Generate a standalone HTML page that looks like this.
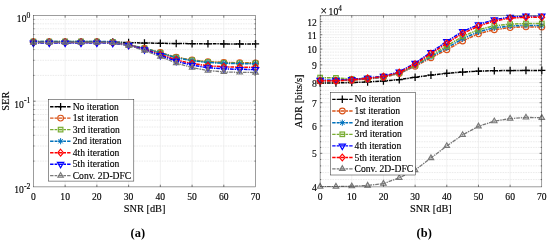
<!DOCTYPE html>
<html><head><meta charset="utf-8"><title>Figure</title>
<style>html,body{margin:0;padding:0;background:#fff}svg{display:block}text{stroke:#000;stroke-width:0.13px}</style></head>
<body>
<svg width="550" height="243" viewBox="0 0 550 243" font-family='"Liberation Serif", serif' fill="#000">
<rect width="550" height="243" fill="#fff"/>
<defs>
<clipPath id="cl"><rect x="33.4" y="15.5" width="222.15" height="171.40"/></clipPath>
<clipPath id="cr"><rect x="320.1" y="15.5" width="221.70" height="171.40"/></clipPath>
</defs>
<line x1="33.4" x2="255.55" y1="161.10" y2="161.10" stroke="#cfcfcf" stroke-width="0.6" stroke-dasharray="0.7 0.95"/>
<line x1="33.4" x2="255.55" y1="146.01" y2="146.01" stroke="#cfcfcf" stroke-width="0.6" stroke-dasharray="0.7 0.95"/>
<line x1="33.4" x2="255.55" y1="135.30" y2="135.30" stroke="#cfcfcf" stroke-width="0.6" stroke-dasharray="0.7 0.95"/>
<line x1="33.4" x2="255.55" y1="127.00" y2="127.00" stroke="#cfcfcf" stroke-width="0.6" stroke-dasharray="0.7 0.95"/>
<line x1="33.4" x2="255.55" y1="120.21" y2="120.21" stroke="#cfcfcf" stroke-width="0.6" stroke-dasharray="0.7 0.95"/>
<line x1="33.4" x2="255.55" y1="114.48" y2="114.48" stroke="#cfcfcf" stroke-width="0.6" stroke-dasharray="0.7 0.95"/>
<line x1="33.4" x2="255.55" y1="109.51" y2="109.51" stroke="#cfcfcf" stroke-width="0.6" stroke-dasharray="0.7 0.95"/>
<line x1="33.4" x2="255.55" y1="105.12" y2="105.12" stroke="#cfcfcf" stroke-width="0.6" stroke-dasharray="0.7 0.95"/>
<line x1="33.4" x2="255.55" y1="75.40" y2="75.40" stroke="#cfcfcf" stroke-width="0.6" stroke-dasharray="0.7 0.95"/>
<line x1="33.4" x2="255.55" y1="60.31" y2="60.31" stroke="#cfcfcf" stroke-width="0.6" stroke-dasharray="0.7 0.95"/>
<line x1="33.4" x2="255.55" y1="49.60" y2="49.60" stroke="#cfcfcf" stroke-width="0.6" stroke-dasharray="0.7 0.95"/>
<line x1="33.4" x2="255.55" y1="41.30" y2="41.30" stroke="#cfcfcf" stroke-width="0.6" stroke-dasharray="0.7 0.95"/>
<line x1="33.4" x2="255.55" y1="34.51" y2="34.51" stroke="#cfcfcf" stroke-width="0.6" stroke-dasharray="0.7 0.95"/>
<line x1="33.4" x2="255.55" y1="28.78" y2="28.78" stroke="#cfcfcf" stroke-width="0.6" stroke-dasharray="0.7 0.95"/>
<line x1="33.4" x2="255.55" y1="23.81" y2="23.81" stroke="#cfcfcf" stroke-width="0.6" stroke-dasharray="0.7 0.95"/>
<line x1="33.4" x2="255.55" y1="19.42" y2="19.42" stroke="#cfcfcf" stroke-width="0.6" stroke-dasharray="0.7 0.95"/>
<line x1="65.14" x2="65.14" y1="15.5" y2="186.9" stroke="#e9e9e9" stroke-width="0.7"/>
<line x1="96.87" x2="96.87" y1="15.5" y2="186.9" stroke="#e9e9e9" stroke-width="0.7"/>
<line x1="128.61" x2="128.61" y1="15.5" y2="186.9" stroke="#e9e9e9" stroke-width="0.7"/>
<line x1="160.34" x2="160.34" y1="15.5" y2="186.9" stroke="#e9e9e9" stroke-width="0.7"/>
<line x1="192.08" x2="192.08" y1="15.5" y2="186.9" stroke="#e9e9e9" stroke-width="0.7"/>
<line x1="223.81" x2="223.81" y1="15.5" y2="186.9" stroke="#e9e9e9" stroke-width="0.7"/>
<line x1="33.4" x2="255.55" y1="101.20" y2="101.20" stroke="#e9e9e9" stroke-width="0.7"/>
<polyline points="33.40,42.00 49.27,42.00 65.14,42.00 81.00,42.00 96.87,42.00 112.74,42.10 128.61,42.60 144.47,43.00 160.34,43.30 176.21,43.50 192.08,43.70 207.95,43.80 223.81,43.90 239.68,43.90 255.55,43.90" fill="none" stroke="#000000" stroke-width="1.5" stroke-dasharray="3.7 0.9 1.4 0.9" clip-path="url(#cl)"/>
<path d="M29.80 42.00H37.00M33.40 38.20V45.80" stroke="#000000" stroke-width="1.25" fill="none"/>
<path d="M45.67 42.00H52.87M49.27 38.20V45.80" stroke="#000000" stroke-width="1.25" fill="none"/>
<path d="M61.54 42.00H68.74M65.14 38.20V45.80" stroke="#000000" stroke-width="1.25" fill="none"/>
<path d="M77.40 42.00H84.60M81.00 38.20V45.80" stroke="#000000" stroke-width="1.25" fill="none"/>
<path d="M93.27 42.00H100.47M96.87 38.20V45.80" stroke="#000000" stroke-width="1.25" fill="none"/>
<path d="M109.14 42.10H116.34M112.74 38.30V45.90" stroke="#000000" stroke-width="1.25" fill="none"/>
<path d="M125.01 42.60H132.21M128.61 38.80V46.40" stroke="#000000" stroke-width="1.25" fill="none"/>
<path d="M140.88 43.00H148.07M144.47 39.20V46.80" stroke="#000000" stroke-width="1.25" fill="none"/>
<path d="M156.74 43.30H163.94M160.34 39.50V47.10" stroke="#000000" stroke-width="1.25" fill="none"/>
<path d="M172.61 43.50H179.81M176.21 39.70V47.30" stroke="#000000" stroke-width="1.25" fill="none"/>
<path d="M188.48 43.70H195.68M192.08 39.90V47.50" stroke="#000000" stroke-width="1.25" fill="none"/>
<path d="M204.35 43.80H211.55M207.95 40.00V47.60" stroke="#000000" stroke-width="1.25" fill="none"/>
<path d="M220.21 43.90H227.41M223.81 40.10V47.70" stroke="#000000" stroke-width="1.25" fill="none"/>
<path d="M236.08 43.90H243.28M239.68 40.10V47.70" stroke="#000000" stroke-width="1.25" fill="none"/>
<path d="M251.95 43.90H259.15M255.55 40.10V47.70" stroke="#000000" stroke-width="1.25" fill="none"/>
<polyline points="33.40,41.80 49.27,41.80 65.14,41.80 81.00,41.80 96.87,41.80 112.74,42.15 128.61,44.70 144.47,48.20 160.34,52.60 176.21,57.30 192.08,60.00 207.95,61.70 223.81,62.40 239.68,62.80 255.55,62.90" fill="none" stroke="#D95319" stroke-width="1.5" stroke-dasharray="3.7 0.9 1.4 0.9" clip-path="url(#cl)"/>
<circle cx="33.40" cy="41.80" r="2.9" stroke="#D95319" stroke-width="1.15" fill="none"/>
<circle cx="49.27" cy="41.80" r="2.9" stroke="#D95319" stroke-width="1.15" fill="none"/>
<circle cx="65.14" cy="41.80" r="2.9" stroke="#D95319" stroke-width="1.15" fill="none"/>
<circle cx="81.00" cy="41.80" r="2.9" stroke="#D95319" stroke-width="1.15" fill="none"/>
<circle cx="96.87" cy="41.80" r="2.9" stroke="#D95319" stroke-width="1.15" fill="none"/>
<circle cx="112.74" cy="42.15" r="2.9" stroke="#D95319" stroke-width="1.15" fill="none"/>
<circle cx="128.61" cy="44.70" r="2.9" stroke="#D95319" stroke-width="1.15" fill="none"/>
<circle cx="144.47" cy="48.20" r="2.9" stroke="#D95319" stroke-width="1.15" fill="none"/>
<circle cx="160.34" cy="52.60" r="2.9" stroke="#D95319" stroke-width="1.15" fill="none"/>
<circle cx="176.21" cy="57.30" r="2.9" stroke="#D95319" stroke-width="1.15" fill="none"/>
<circle cx="192.08" cy="60.00" r="2.9" stroke="#D95319" stroke-width="1.15" fill="none"/>
<circle cx="207.95" cy="61.70" r="2.9" stroke="#D95319" stroke-width="1.15" fill="none"/>
<circle cx="223.81" cy="62.40" r="2.9" stroke="#D95319" stroke-width="1.15" fill="none"/>
<circle cx="239.68" cy="62.80" r="2.9" stroke="#D95319" stroke-width="1.15" fill="none"/>
<circle cx="255.55" cy="62.90" r="2.9" stroke="#D95319" stroke-width="1.15" fill="none"/>
<polyline points="33.40,41.60 49.27,41.60 65.14,41.60 81.00,41.60 96.87,41.60 112.74,41.95 128.61,44.73 144.47,48.29 160.34,52.76 176.21,57.53 192.08,60.30 207.95,62.06 223.81,62.78 239.68,63.18 255.55,63.28" fill="none" stroke="#77AC30" stroke-width="1.5" stroke-dasharray="3.7 0.9 1.4 0.9" clip-path="url(#cl)"/>
<rect x="31.10" y="39.30" width="4.60" height="4.60" stroke="#77AC30" stroke-width="1.15" fill="#77AC30" fill-opacity="0.2"/>
<rect x="46.97" y="39.30" width="4.60" height="4.60" stroke="#77AC30" stroke-width="1.15" fill="#77AC30" fill-opacity="0.2"/>
<rect x="62.84" y="39.30" width="4.60" height="4.60" stroke="#77AC30" stroke-width="1.15" fill="#77AC30" fill-opacity="0.2"/>
<rect x="78.70" y="39.30" width="4.60" height="4.60" stroke="#77AC30" stroke-width="1.15" fill="#77AC30" fill-opacity="0.2"/>
<rect x="94.57" y="39.30" width="4.60" height="4.60" stroke="#77AC30" stroke-width="1.15" fill="#77AC30" fill-opacity="0.2"/>
<rect x="110.44" y="39.65" width="4.60" height="4.60" stroke="#77AC30" stroke-width="1.15" fill="#77AC30" fill-opacity="0.2"/>
<rect x="126.31" y="42.43" width="4.60" height="4.60" stroke="#77AC30" stroke-width="1.15" fill="#77AC30" fill-opacity="0.2"/>
<rect x="142.17" y="45.99" width="4.60" height="4.60" stroke="#77AC30" stroke-width="1.15" fill="#77AC30" fill-opacity="0.2"/>
<rect x="158.04" y="50.46" width="4.60" height="4.60" stroke="#77AC30" stroke-width="1.15" fill="#77AC30" fill-opacity="0.2"/>
<rect x="173.91" y="55.23" width="4.60" height="4.60" stroke="#77AC30" stroke-width="1.15" fill="#77AC30" fill-opacity="0.2"/>
<rect x="189.78" y="58.00" width="4.60" height="4.60" stroke="#77AC30" stroke-width="1.15" fill="#77AC30" fill-opacity="0.2"/>
<rect x="205.65" y="59.76" width="4.60" height="4.60" stroke="#77AC30" stroke-width="1.15" fill="#77AC30" fill-opacity="0.2"/>
<rect x="221.51" y="60.48" width="4.60" height="4.60" stroke="#77AC30" stroke-width="1.15" fill="#77AC30" fill-opacity="0.2"/>
<rect x="237.38" y="60.88" width="4.60" height="4.60" stroke="#77AC30" stroke-width="1.15" fill="#77AC30" fill-opacity="0.2"/>
<rect x="253.25" y="60.98" width="4.60" height="4.60" stroke="#77AC30" stroke-width="1.15" fill="#77AC30" fill-opacity="0.2"/>
<polyline points="33.40,41.40 49.27,41.40 65.14,41.40 81.00,41.40 96.87,41.40 112.74,41.75 128.61,44.77 144.47,48.41 160.34,52.97 176.21,57.81 192.08,60.68 207.95,62.50 223.81,63.26 239.68,63.66 255.55,63.76" fill="none" stroke="#0072BD" stroke-width="1.5" stroke-dasharray="3.7 0.9 1.4 0.9" clip-path="url(#cl)"/>
<path d="M30.30 41.40H36.50M33.40 38.30V44.50M31.21 39.21L35.59 43.59M31.21 43.59L35.59 39.21" stroke="#0072BD" stroke-width="1.0" fill="none"/>
<path d="M46.17 41.40H52.37M49.27 38.30V44.50M47.08 39.21L51.46 43.59M47.08 43.59L51.46 39.21" stroke="#0072BD" stroke-width="1.0" fill="none"/>
<path d="M62.04 41.40H68.24M65.14 38.30V44.50M62.94 39.21L67.33 43.59M62.94 43.59L67.33 39.21" stroke="#0072BD" stroke-width="1.0" fill="none"/>
<path d="M77.90 41.40H84.10M81.00 38.30V44.50M78.81 39.21L83.20 43.59M78.81 43.59L83.20 39.21" stroke="#0072BD" stroke-width="1.0" fill="none"/>
<path d="M93.77 41.40H99.97M96.87 38.30V44.50M94.68 39.21L99.06 43.59M94.68 43.59L99.06 39.21" stroke="#0072BD" stroke-width="1.0" fill="none"/>
<path d="M109.64 41.75H115.84M112.74 38.65V44.85M110.55 39.56L114.93 43.94M110.55 43.94L114.93 39.56" stroke="#0072BD" stroke-width="1.0" fill="none"/>
<path d="M125.51 44.77H131.71M128.61 41.67V47.87M126.42 42.58L130.80 46.96M126.42 46.96L130.80 42.58" stroke="#0072BD" stroke-width="1.0" fill="none"/>
<path d="M141.38 48.41H147.57M144.47 45.31V51.51M142.28 46.21L146.67 50.60M142.28 50.60L146.67 46.21" stroke="#0072BD" stroke-width="1.0" fill="none"/>
<path d="M157.24 52.97H163.44M160.34 49.87V56.07M158.15 50.78L162.53 55.16M158.15 55.16L162.53 50.78" stroke="#0072BD" stroke-width="1.0" fill="none"/>
<path d="M173.11 57.81H179.31M176.21 54.71V60.91M174.02 55.62L178.40 60.01M174.02 60.01L178.40 55.62" stroke="#0072BD" stroke-width="1.0" fill="none"/>
<path d="M188.98 60.68H195.18M192.08 57.58V63.78M189.89 58.49L194.27 62.88M189.89 62.88L194.27 58.49" stroke="#0072BD" stroke-width="1.0" fill="none"/>
<path d="M204.85 62.50H211.05M207.95 59.40V65.60M205.75 60.31L210.14 64.69M205.75 64.69L210.14 60.31" stroke="#0072BD" stroke-width="1.0" fill="none"/>
<path d="M220.71 63.26H226.91M223.81 60.16V66.36M221.62 61.06L226.01 65.45M221.62 65.45L226.01 61.06" stroke="#0072BD" stroke-width="1.0" fill="none"/>
<path d="M236.58 63.66H242.78M239.68 60.56V66.76M237.49 61.47L241.87 65.86M237.49 65.86L241.87 61.47" stroke="#0072BD" stroke-width="1.0" fill="none"/>
<path d="M252.45 63.76H258.65M255.55 60.66V66.86M253.36 61.57L257.74 65.96M253.36 65.96L257.74 61.57" stroke="#0072BD" stroke-width="1.0" fill="none"/>
<polyline points="33.40,42.40 49.27,42.40 65.14,42.40 81.00,42.40 96.87,42.40 112.74,42.75 128.61,45.07 144.47,49.26 160.34,54.49 176.21,59.92 192.08,63.50 207.95,65.79 223.81,66.77 239.68,67.22 255.55,67.32" fill="none" stroke="#FF0000" stroke-width="1.5" stroke-dasharray="3.7 0.9 1.4 0.9" clip-path="url(#cl)"/>
<path d="M33.40 38.95L36.25 42.40L33.40 45.85L30.55 42.40Z" stroke="#FF0000" stroke-width="1.15" fill="none"/>
<path d="M49.27 38.95L52.12 42.40L49.27 45.85L46.42 42.40Z" stroke="#FF0000" stroke-width="1.15" fill="none"/>
<path d="M65.14 38.95L67.99 42.40L65.14 45.85L62.29 42.40Z" stroke="#FF0000" stroke-width="1.15" fill="none"/>
<path d="M81.00 38.95L83.85 42.40L81.00 45.85L78.15 42.40Z" stroke="#FF0000" stroke-width="1.15" fill="none"/>
<path d="M96.87 38.95L99.72 42.40L96.87 45.85L94.02 42.40Z" stroke="#FF0000" stroke-width="1.15" fill="none"/>
<path d="M112.74 39.30L115.59 42.75L112.74 46.20L109.89 42.75Z" stroke="#FF0000" stroke-width="1.15" fill="none"/>
<path d="M128.61 41.62L131.46 45.07L128.61 48.52L125.76 45.07Z" stroke="#FF0000" stroke-width="1.15" fill="none"/>
<path d="M144.47 45.81L147.32 49.26L144.47 52.71L141.62 49.26Z" stroke="#FF0000" stroke-width="1.15" fill="none"/>
<path d="M160.34 51.04L163.19 54.49L160.34 57.94L157.49 54.49Z" stroke="#FF0000" stroke-width="1.15" fill="none"/>
<path d="M176.21 56.47L179.06 59.92L176.21 63.37L173.36 59.92Z" stroke="#FF0000" stroke-width="1.15" fill="none"/>
<path d="M192.08 60.05L194.93 63.50L192.08 66.95L189.23 63.50Z" stroke="#FF0000" stroke-width="1.15" fill="none"/>
<path d="M207.95 62.34L210.80 65.79L207.95 69.24L205.10 65.79Z" stroke="#FF0000" stroke-width="1.15" fill="none"/>
<path d="M223.81 63.32L226.66 66.77L223.81 70.22L220.96 66.77Z" stroke="#FF0000" stroke-width="1.15" fill="none"/>
<path d="M239.68 63.77L242.53 67.22L239.68 70.67L236.83 67.22Z" stroke="#FF0000" stroke-width="1.15" fill="none"/>
<path d="M255.55 63.87L258.40 67.32L255.55 70.77L252.70 67.32Z" stroke="#FF0000" stroke-width="1.15" fill="none"/>
<polyline points="33.40,42.90 49.27,42.90 65.14,42.90 81.00,42.90 96.87,42.90 112.74,43.25 128.61,45.24 144.47,49.76 160.34,55.39 176.21,61.18 192.08,65.17 207.95,67.75 223.81,68.86 239.68,69.33 255.55,69.43" fill="none" stroke="#0000FF" stroke-width="1.5" stroke-dasharray="3.7 0.9 1.4 0.9" clip-path="url(#cl)"/>
<path d="M30.20 41.05L36.60 41.05L33.40 46.60Z" stroke="#0000FF" stroke-width="1.15" fill="none" stroke-linejoin="miter"/>
<path d="M46.07 41.05L52.47 41.05L49.27 46.60Z" stroke="#0000FF" stroke-width="1.15" fill="none" stroke-linejoin="miter"/>
<path d="M61.94 41.05L68.34 41.05L65.14 46.60Z" stroke="#0000FF" stroke-width="1.15" fill="none" stroke-linejoin="miter"/>
<path d="M77.80 41.05L84.20 41.05L81.00 46.60Z" stroke="#0000FF" stroke-width="1.15" fill="none" stroke-linejoin="miter"/>
<path d="M93.67 41.05L100.07 41.05L96.87 46.60Z" stroke="#0000FF" stroke-width="1.15" fill="none" stroke-linejoin="miter"/>
<path d="M109.54 41.40L115.94 41.40L112.74 46.95Z" stroke="#0000FF" stroke-width="1.15" fill="none" stroke-linejoin="miter"/>
<path d="M125.41 43.39L131.81 43.39L128.61 48.94Z" stroke="#0000FF" stroke-width="1.15" fill="none" stroke-linejoin="miter"/>
<path d="M141.28 47.91L147.67 47.91L144.47 53.46Z" stroke="#0000FF" stroke-width="1.15" fill="none" stroke-linejoin="miter"/>
<path d="M157.14 53.54L163.54 53.54L160.34 59.09Z" stroke="#0000FF" stroke-width="1.15" fill="none" stroke-linejoin="miter"/>
<path d="M173.01 59.33L179.41 59.33L176.21 64.88Z" stroke="#0000FF" stroke-width="1.15" fill="none" stroke-linejoin="miter"/>
<path d="M188.88 63.32L195.28 63.32L192.08 68.87Z" stroke="#0000FF" stroke-width="1.15" fill="none" stroke-linejoin="miter"/>
<path d="M204.75 65.90L211.15 65.90L207.95 71.45Z" stroke="#0000FF" stroke-width="1.15" fill="none" stroke-linejoin="miter"/>
<path d="M220.61 67.01L227.01 67.01L223.81 72.56Z" stroke="#0000FF" stroke-width="1.15" fill="none" stroke-linejoin="miter"/>
<path d="M236.48 67.48L242.88 67.48L239.68 73.03Z" stroke="#0000FF" stroke-width="1.15" fill="none" stroke-linejoin="miter"/>
<path d="M252.35 67.58L258.75 67.58L255.55 73.13Z" stroke="#0000FF" stroke-width="1.15" fill="none" stroke-linejoin="miter"/>
<polyline points="33.40,42.60 49.27,42.60 65.14,42.60 81.00,42.60 96.87,42.60 112.74,42.95 128.61,45.50 144.47,50.50 160.34,56.70 176.21,63.00 192.08,67.60 207.95,70.60 223.81,71.90 239.68,72.40 255.55,72.50" fill="none" stroke="#787878" stroke-width="1.3" stroke-dasharray="3.7 0.9 1.4 0.9" clip-path="url(#cl)"/>
<path d="M30.65 44.20L36.15 44.20L33.40 39.45Z" stroke="#787878" stroke-width="1.1" fill="#787878" fill-opacity="0.22"/>
<path d="M46.52 44.20L52.02 44.20L49.27 39.45Z" stroke="#787878" stroke-width="1.1" fill="#787878" fill-opacity="0.22"/>
<path d="M62.39 44.20L67.89 44.20L65.14 39.45Z" stroke="#787878" stroke-width="1.1" fill="#787878" fill-opacity="0.22"/>
<path d="M78.25 44.20L83.75 44.20L81.00 39.45Z" stroke="#787878" stroke-width="1.1" fill="#787878" fill-opacity="0.22"/>
<path d="M94.12 44.20L99.62 44.20L96.87 39.45Z" stroke="#787878" stroke-width="1.1" fill="#787878" fill-opacity="0.22"/>
<path d="M109.99 44.55L115.49 44.55L112.74 39.80Z" stroke="#787878" stroke-width="1.1" fill="#787878" fill-opacity="0.22"/>
<path d="M125.86 47.10L131.36 47.10L128.61 42.35Z" stroke="#787878" stroke-width="1.1" fill="#787878" fill-opacity="0.22"/>
<path d="M141.72 52.10L147.22 52.10L144.47 47.35Z" stroke="#787878" stroke-width="1.1" fill="#787878" fill-opacity="0.22"/>
<path d="M157.59 58.30L163.09 58.30L160.34 53.55Z" stroke="#787878" stroke-width="1.1" fill="#787878" fill-opacity="0.22"/>
<path d="M173.46 64.60L178.96 64.60L176.21 59.85Z" stroke="#787878" stroke-width="1.1" fill="#787878" fill-opacity="0.22"/>
<path d="M189.33 69.20L194.83 69.20L192.08 64.45Z" stroke="#787878" stroke-width="1.1" fill="#787878" fill-opacity="0.22"/>
<path d="M205.20 72.20L210.70 72.20L207.95 67.45Z" stroke="#787878" stroke-width="1.1" fill="#787878" fill-opacity="0.22"/>
<path d="M221.06 73.50L226.56 73.50L223.81 68.75Z" stroke="#787878" stroke-width="1.1" fill="#787878" fill-opacity="0.22"/>
<path d="M236.93 74.00L242.43 74.00L239.68 69.25Z" stroke="#787878" stroke-width="1.1" fill="#787878" fill-opacity="0.22"/>
<path d="M252.80 74.10L258.30 74.10L255.55 69.35Z" stroke="#787878" stroke-width="1.1" fill="#787878" fill-opacity="0.22"/>
<rect x="33.4" y="15.5" width="222.15" height="171.40" fill="none" stroke="#262626" stroke-width="0.45"/>
<path d="M65.14 186.9v-2.2M65.14 15.5v2.2M96.87 186.9v-2.2M96.87 15.5v2.2M128.61 186.9v-2.2M128.61 15.5v2.2M160.34 186.9v-2.2M160.34 15.5v2.2M192.08 186.9v-2.2M192.08 15.5v2.2M223.81 186.9v-2.2M223.81 15.5v2.2M33.4 101.20h2.2M255.55 101.20h-2.2M33.4 161.10h1.1M255.55 161.10h-1.1M33.4 146.01h1.1M255.55 146.01h-1.1M33.4 135.30h1.1M255.55 135.30h-1.1M33.4 127.00h1.1M255.55 127.00h-1.1M33.4 120.21h1.1M255.55 120.21h-1.1M33.4 114.48h1.1M255.55 114.48h-1.1M33.4 109.51h1.1M255.55 109.51h-1.1M33.4 105.12h1.1M255.55 105.12h-1.1M33.4 75.40h1.1M255.55 75.40h-1.1M33.4 60.31h1.1M255.55 60.31h-1.1M33.4 49.60h1.1M255.55 49.60h-1.1M33.4 41.30h1.1M255.55 41.30h-1.1M33.4 34.51h1.1M255.55 34.51h-1.1M33.4 28.78h1.1M255.55 28.78h-1.1M33.4 23.81h1.1M255.55 23.81h-1.1M33.4 19.42h1.1M255.55 19.42h-1.1" stroke="#262626" stroke-width="0.6" fill="none"/>
<text x="33.40" y="200.40" font-size="9.6" text-anchor="middle" >0</text>
<text x="65.14" y="200.40" font-size="9.6" text-anchor="middle" >10</text>
<text x="96.87" y="200.40" font-size="9.6" text-anchor="middle" >20</text>
<text x="128.61" y="200.40" font-size="9.6" text-anchor="middle" >30</text>
<text x="160.34" y="200.40" font-size="9.6" text-anchor="middle" >40</text>
<text x="192.08" y="200.40" font-size="9.6" text-anchor="middle" >50</text>
<text x="223.81" y="200.40" font-size="9.6" text-anchor="middle" >60</text>
<text x="255.55" y="200.40" font-size="9.6" text-anchor="middle" >70</text>
<text x="144.60" y="212.20" font-size="10.4" text-anchor="middle" >SNR [dB]</text>
<text x="30.3" y="22.00" font-size="9.6" text-anchor="end">10<tspan font-size="7.7" dy="-4.4">0</tspan></text>
<text x="30.3" y="107.70" font-size="9.6" text-anchor="end">10<tspan font-size="7.7" dy="-4.4">-1</tspan></text>
<text x="30.3" y="193.40" font-size="9.6" text-anchor="end">10<tspan font-size="7.7" dy="-4.4">-2</tspan></text>
<text transform="translate(9.0,101.2) rotate(-90)" font-size="10.4" text-anchor="middle">SER</text>
<rect x="48.4" y="99.3" width="85.40" height="81.80" fill="#fff" stroke="#262626" stroke-width="0.5"/>
<line x1="50.1" x2="70.9" y1="106.70" y2="106.70" stroke="#000000" stroke-width="1.35" stroke-dasharray="3.4 1.1 2.6 1.1 4.0 1.1 2.6 1.1 3.4"/>
<path d="M57.00 106.70H64.20M60.60 102.90V110.50" stroke="#000000" stroke-width="1.25" fill="none"/>
<text x="72.70" y="109.80" font-size="9.6" text-anchor="start" >No iteration</text>
<line x1="50.1" x2="70.9" y1="118.10" y2="118.10" stroke="#D95319" stroke-width="1.35" stroke-dasharray="3.4 1.1 2.6 1.1 4.0 1.1 2.6 1.1 3.4"/>
<circle cx="60.60" cy="118.10" r="2.9" stroke="#D95319" stroke-width="1.15" fill="none"/>
<text x="72.70" y="121.20" font-size="9.6" text-anchor="start" >1st iteration</text>
<line x1="50.1" x2="70.9" y1="129.60" y2="129.60" stroke="#77AC30" stroke-width="1.35" stroke-dasharray="3.4 1.1 2.6 1.1 4.0 1.1 2.6 1.1 3.4"/>
<rect x="58.30" y="127.30" width="4.60" height="4.60" stroke="#77AC30" stroke-width="1.15" fill="#77AC30" fill-opacity="0.2"/>
<text x="72.70" y="132.70" font-size="9.6" text-anchor="start" >3rd iteration</text>
<line x1="50.1" x2="70.9" y1="141.20" y2="141.20" stroke="#0072BD" stroke-width="1.35" stroke-dasharray="3.4 1.1 2.6 1.1 4.0 1.1 2.6 1.1 3.4"/>
<path d="M57.50 141.20H63.70M60.60 138.10V144.30M58.41 139.01L62.79 143.39M58.41 143.39L62.79 139.01" stroke="#0072BD" stroke-width="1.0" fill="none"/>
<text x="72.70" y="144.30" font-size="9.6" text-anchor="start" >2nd iteration</text>
<line x1="50.1" x2="70.9" y1="152.70" y2="152.70" stroke="#FF0000" stroke-width="1.35" stroke-dasharray="3.4 1.1 2.6 1.1 4.0 1.1 2.6 1.1 3.4"/>
<path d="M60.60 149.25L63.45 152.70L60.60 156.15L57.75 152.70Z" stroke="#FF0000" stroke-width="1.15" fill="none"/>
<text x="72.70" y="155.80" font-size="9.6" text-anchor="start" >4th iteration</text>
<line x1="50.1" x2="70.9" y1="164.20" y2="164.20" stroke="#0000FF" stroke-width="1.35" stroke-dasharray="3.4 1.1 2.6 1.1 4.0 1.1 2.6 1.1 3.4"/>
<path d="M57.40 162.35L63.80 162.35L60.60 167.90Z" stroke="#0000FF" stroke-width="1.15" fill="none" stroke-linejoin="miter"/>
<text x="72.70" y="167.30" font-size="9.6" text-anchor="start" >5th iteration</text>
<line x1="50.1" x2="70.9" y1="175.70" y2="175.70" stroke="#787878" stroke-width="1.3" stroke-dasharray="3.4 1.1 2.6 1.1 4.0 1.1 2.6 1.1 3.4"/>
<path d="M57.85 177.30L63.35 177.30L60.60 172.55Z" stroke="#787878" stroke-width="1.1" fill="#787878" fill-opacity="0.22"/>
<text x="72.70" y="178.80" font-size="9.6" text-anchor="start" >Conv. 2D-DFC</text>
<text x="137.8" y="236.8" font-size="12.4" font-weight="bold" style="stroke-width:0" text-anchor="middle">(a)</text>
<line x1="320.1" x2="541.8" y1="179.56" y2="179.56" stroke="#cfcfcf" stroke-width="0.6" stroke-dasharray="0.7 0.95"/>
<line x1="320.1" x2="541.8" y1="172.56" y2="172.56" stroke="#cfcfcf" stroke-width="0.6" stroke-dasharray="0.7 0.95"/>
<line x1="320.1" x2="541.8" y1="165.88" y2="165.88" stroke="#cfcfcf" stroke-width="0.6" stroke-dasharray="0.7 0.95"/>
<line x1="320.1" x2="541.8" y1="159.47" y2="159.47" stroke="#cfcfcf" stroke-width="0.6" stroke-dasharray="0.7 0.95"/>
<line x1="320.1" x2="541.8" y1="147.43" y2="147.43" stroke="#cfcfcf" stroke-width="0.6" stroke-dasharray="0.7 0.95"/>
<line x1="320.1" x2="541.8" y1="141.76" y2="141.76" stroke="#cfcfcf" stroke-width="0.6" stroke-dasharray="0.7 0.95"/>
<line x1="320.1" x2="541.8" y1="136.29" y2="136.29" stroke="#cfcfcf" stroke-width="0.6" stroke-dasharray="0.7 0.95"/>
<line x1="320.1" x2="541.8" y1="131.01" y2="131.01" stroke="#cfcfcf" stroke-width="0.6" stroke-dasharray="0.7 0.95"/>
<line x1="320.1" x2="541.8" y1="120.98" y2="120.98" stroke="#cfcfcf" stroke-width="0.6" stroke-dasharray="0.7 0.95"/>
<line x1="320.1" x2="541.8" y1="116.20" y2="116.20" stroke="#cfcfcf" stroke-width="0.6" stroke-dasharray="0.7 0.95"/>
<line x1="320.1" x2="541.8" y1="111.57" y2="111.57" stroke="#cfcfcf" stroke-width="0.6" stroke-dasharray="0.7 0.95"/>
<line x1="320.1" x2="541.8" y1="107.08" y2="107.08" stroke="#cfcfcf" stroke-width="0.6" stroke-dasharray="0.7 0.95"/>
<line x1="320.1" x2="541.8" y1="98.48" y2="98.48" stroke="#cfcfcf" stroke-width="0.6" stroke-dasharray="0.7 0.95"/>
<line x1="320.1" x2="541.8" y1="94.36" y2="94.36" stroke="#cfcfcf" stroke-width="0.6" stroke-dasharray="0.7 0.95"/>
<line x1="320.1" x2="541.8" y1="90.35" y2="90.35" stroke="#cfcfcf" stroke-width="0.6" stroke-dasharray="0.7 0.95"/>
<line x1="320.1" x2="541.8" y1="86.44" y2="86.44" stroke="#cfcfcf" stroke-width="0.6" stroke-dasharray="0.7 0.95"/>
<line x1="320.1" x2="541.8" y1="78.92" y2="78.92" stroke="#cfcfcf" stroke-width="0.6" stroke-dasharray="0.7 0.95"/>
<line x1="320.1" x2="541.8" y1="75.29" y2="75.29" stroke="#cfcfcf" stroke-width="0.6" stroke-dasharray="0.7 0.95"/>
<line x1="320.1" x2="541.8" y1="71.75" y2="71.75" stroke="#cfcfcf" stroke-width="0.6" stroke-dasharray="0.7 0.95"/>
<line x1="320.1" x2="541.8" y1="68.30" y2="68.30" stroke="#cfcfcf" stroke-width="0.6" stroke-dasharray="0.7 0.95"/>
<line x1="320.1" x2="541.8" y1="61.61" y2="61.61" stroke="#cfcfcf" stroke-width="0.6" stroke-dasharray="0.7 0.95"/>
<line x1="320.1" x2="541.8" y1="58.37" y2="58.37" stroke="#cfcfcf" stroke-width="0.6" stroke-dasharray="0.7 0.95"/>
<line x1="320.1" x2="541.8" y1="55.21" y2="55.21" stroke="#cfcfcf" stroke-width="0.6" stroke-dasharray="0.7 0.95"/>
<line x1="320.1" x2="541.8" y1="52.11" y2="52.11" stroke="#cfcfcf" stroke-width="0.6" stroke-dasharray="0.7 0.95"/>
<line x1="320.1" x2="541.8" y1="46.09" y2="46.09" stroke="#cfcfcf" stroke-width="0.6" stroke-dasharray="0.7 0.95"/>
<line x1="320.1" x2="541.8" y1="43.17" y2="43.17" stroke="#cfcfcf" stroke-width="0.6" stroke-dasharray="0.7 0.95"/>
<line x1="320.1" x2="541.8" y1="40.30" y2="40.30" stroke="#cfcfcf" stroke-width="0.6" stroke-dasharray="0.7 0.95"/>
<line x1="320.1" x2="541.8" y1="37.49" y2="37.49" stroke="#cfcfcf" stroke-width="0.6" stroke-dasharray="0.7 0.95"/>
<line x1="320.1" x2="541.8" y1="32.02" y2="32.02" stroke="#cfcfcf" stroke-width="0.6" stroke-dasharray="0.7 0.95"/>
<line x1="320.1" x2="541.8" y1="29.36" y2="29.36" stroke="#cfcfcf" stroke-width="0.6" stroke-dasharray="0.7 0.95"/>
<line x1="320.1" x2="541.8" y1="26.74" y2="26.74" stroke="#cfcfcf" stroke-width="0.6" stroke-dasharray="0.7 0.95"/>
<line x1="320.1" x2="541.8" y1="24.17" y2="24.17" stroke="#cfcfcf" stroke-width="0.6" stroke-dasharray="0.7 0.95"/>
<line x1="320.1" x2="541.8" y1="19.15" y2="19.15" stroke="#cfcfcf" stroke-width="0.6" stroke-dasharray="0.7 0.95"/>
<line x1="320.1" x2="541.8" y1="16.71" y2="16.71" stroke="#cfcfcf" stroke-width="0.6" stroke-dasharray="0.7 0.95"/>
<line x1="351.77" x2="351.77" y1="15.5" y2="186.9" stroke="#e9e9e9" stroke-width="0.7"/>
<line x1="383.44" x2="383.44" y1="15.5" y2="186.9" stroke="#e9e9e9" stroke-width="0.7"/>
<line x1="415.11" x2="415.11" y1="15.5" y2="186.9" stroke="#e9e9e9" stroke-width="0.7"/>
<line x1="446.79" x2="446.79" y1="15.5" y2="186.9" stroke="#e9e9e9" stroke-width="0.7"/>
<line x1="478.46" x2="478.46" y1="15.5" y2="186.9" stroke="#e9e9e9" stroke-width="0.7"/>
<line x1="510.13" x2="510.13" y1="15.5" y2="186.9" stroke="#e9e9e9" stroke-width="0.7"/>
<line x1="320.1" x2="541.8" y1="153.33" y2="153.33" stroke="#e9e9e9" stroke-width="0.7"/>
<line x1="320.1" x2="541.8" y1="125.91" y2="125.91" stroke="#e9e9e9" stroke-width="0.7"/>
<line x1="320.1" x2="541.8" y1="102.72" y2="102.72" stroke="#e9e9e9" stroke-width="0.7"/>
<line x1="320.1" x2="541.8" y1="82.63" y2="82.63" stroke="#e9e9e9" stroke-width="0.7"/>
<line x1="320.1" x2="541.8" y1="64.92" y2="64.92" stroke="#e9e9e9" stroke-width="0.7"/>
<line x1="320.1" x2="541.8" y1="49.07" y2="49.07" stroke="#e9e9e9" stroke-width="0.7"/>
<line x1="320.1" x2="541.8" y1="34.73" y2="34.73" stroke="#e9e9e9" stroke-width="0.7"/>
<line x1="320.1" x2="541.8" y1="21.64" y2="21.64" stroke="#e9e9e9" stroke-width="0.7"/>
<polyline points="320.10,83.00 335.94,82.90 351.77,82.50 367.61,81.90 383.44,81.00 399.28,79.60 415.11,77.30 430.95,75.10 446.79,73.30 462.62,72.00 478.46,71.20 494.29,70.70 510.13,70.50 525.96,70.40 541.80,70.40" fill="none" stroke="#000000" stroke-width="1.5" stroke-dasharray="3.7 0.9 1.4 0.9" clip-path="url(#cr)"/>
<path d="M316.50 83.00H323.70M320.10 79.20V86.80" stroke="#000000" stroke-width="1.25" fill="none"/>
<path d="M332.34 82.90H339.54M335.94 79.10V86.70" stroke="#000000" stroke-width="1.25" fill="none"/>
<path d="M348.17 82.50H355.37M351.77 78.70V86.30" stroke="#000000" stroke-width="1.25" fill="none"/>
<path d="M364.01 81.90H371.21M367.61 78.10V85.70" stroke="#000000" stroke-width="1.25" fill="none"/>
<path d="M379.84 81.00H387.04M383.44 77.20V84.80" stroke="#000000" stroke-width="1.25" fill="none"/>
<path d="M395.68 79.60H402.88M399.28 75.80V83.40" stroke="#000000" stroke-width="1.25" fill="none"/>
<path d="M411.51 77.30H418.71M415.11 73.50V81.10" stroke="#000000" stroke-width="1.25" fill="none"/>
<path d="M427.35 75.10H434.55M430.95 71.30V78.90" stroke="#000000" stroke-width="1.25" fill="none"/>
<path d="M443.19 73.30H450.39M446.79 69.50V77.10" stroke="#000000" stroke-width="1.25" fill="none"/>
<path d="M459.02 72.00H466.22M462.62 68.20V75.80" stroke="#000000" stroke-width="1.25" fill="none"/>
<path d="M474.86 71.20H482.06M478.46 67.40V75.00" stroke="#000000" stroke-width="1.25" fill="none"/>
<path d="M490.69 70.70H497.89M494.29 66.90V74.50" stroke="#000000" stroke-width="1.25" fill="none"/>
<path d="M506.53 70.50H513.73M510.13 66.70V74.30" stroke="#000000" stroke-width="1.25" fill="none"/>
<path d="M522.36 70.40H529.56M525.96 66.60V74.20" stroke="#000000" stroke-width="1.25" fill="none"/>
<path d="M538.20 70.40H545.40M541.80 66.60V74.20" stroke="#000000" stroke-width="1.25" fill="none"/>
<polyline points="320.10,80.90 335.94,80.90 351.77,80.20 367.61,79.00 383.44,77.30 399.28,73.50 415.11,66.30 430.95,57.80 446.79,49.70 462.62,41.00 478.46,33.80 494.29,29.70 510.13,27.60 525.96,26.80 541.80,27.10" fill="none" stroke="#D95319" stroke-width="1.5" stroke-dasharray="3.7 0.9 1.4 0.9" clip-path="url(#cr)"/>
<circle cx="320.10" cy="80.90" r="2.9" stroke="#D95319" stroke-width="1.15" fill="none"/>
<circle cx="335.94" cy="80.90" r="2.9" stroke="#D95319" stroke-width="1.15" fill="none"/>
<circle cx="351.77" cy="80.20" r="2.9" stroke="#D95319" stroke-width="1.15" fill="none"/>
<circle cx="367.61" cy="79.00" r="2.9" stroke="#D95319" stroke-width="1.15" fill="none"/>
<circle cx="383.44" cy="77.30" r="2.9" stroke="#D95319" stroke-width="1.15" fill="none"/>
<circle cx="399.28" cy="73.50" r="2.9" stroke="#D95319" stroke-width="1.15" fill="none"/>
<circle cx="415.11" cy="66.30" r="2.9" stroke="#D95319" stroke-width="1.15" fill="none"/>
<circle cx="430.95" cy="57.80" r="2.9" stroke="#D95319" stroke-width="1.15" fill="none"/>
<circle cx="446.79" cy="49.70" r="2.9" stroke="#D95319" stroke-width="1.15" fill="none"/>
<circle cx="462.62" cy="41.00" r="2.9" stroke="#D95319" stroke-width="1.15" fill="none"/>
<circle cx="478.46" cy="33.80" r="2.9" stroke="#D95319" stroke-width="1.15" fill="none"/>
<circle cx="494.29" cy="29.70" r="2.9" stroke="#D95319" stroke-width="1.15" fill="none"/>
<circle cx="510.13" cy="27.60" r="2.9" stroke="#D95319" stroke-width="1.15" fill="none"/>
<circle cx="525.96" cy="26.80" r="2.9" stroke="#D95319" stroke-width="1.15" fill="none"/>
<circle cx="541.80" cy="27.10" r="2.9" stroke="#D95319" stroke-width="1.15" fill="none"/>
<polyline points="320.10,80.40 335.94,80.40 351.77,79.80 367.61,78.60 383.44,76.90 399.28,73.10 415.11,65.60 430.95,56.60 446.79,47.80 462.62,38.80 478.46,31.80 494.29,27.80 510.13,26.00 525.96,25.40 541.80,25.60" fill="none" stroke="#0072BD" stroke-width="1.5" stroke-dasharray="3.7 0.9 1.4 0.9" clip-path="url(#cr)"/>
<path d="M317.00 80.40H323.20M320.10 77.30V83.50M317.91 78.21L322.29 82.59M317.91 82.59L322.29 78.21" stroke="#0072BD" stroke-width="1.0" fill="none"/>
<path d="M332.84 80.40H339.04M335.94 77.30V83.50M333.74 78.21L338.13 82.59M333.74 82.59L338.13 78.21" stroke="#0072BD" stroke-width="1.0" fill="none"/>
<path d="M348.67 79.80H354.87M351.77 76.70V82.90M349.58 77.61L353.96 81.99M349.58 81.99L353.96 77.61" stroke="#0072BD" stroke-width="1.0" fill="none"/>
<path d="M364.51 78.60H370.71M367.61 75.50V81.70M365.42 76.41L369.80 80.79M365.42 80.79L369.80 76.41" stroke="#0072BD" stroke-width="1.0" fill="none"/>
<path d="M380.34 76.90H386.54M383.44 73.80V80.00M381.25 74.71L385.63 79.09M381.25 79.09L385.63 74.71" stroke="#0072BD" stroke-width="1.0" fill="none"/>
<path d="M396.18 73.10H402.38M399.28 70.00V76.20M397.09 70.91L401.47 75.29M397.09 75.29L401.47 70.91" stroke="#0072BD" stroke-width="1.0" fill="none"/>
<path d="M412.01 65.60H418.21M415.11 62.50V68.70M412.92 63.41L417.31 67.79M412.92 67.79L417.31 63.41" stroke="#0072BD" stroke-width="1.0" fill="none"/>
<path d="M427.85 56.60H434.05M430.95 53.50V59.70M428.76 54.41L433.14 58.79M428.76 58.79L433.14 54.41" stroke="#0072BD" stroke-width="1.0" fill="none"/>
<path d="M443.69 47.80H449.89M446.79 44.70V50.90M444.59 45.61L448.98 49.99M444.59 49.99L448.98 45.61" stroke="#0072BD" stroke-width="1.0" fill="none"/>
<path d="M459.52 38.80H465.72M462.62 35.70V41.90M460.43 36.61L464.81 40.99M460.43 40.99L464.81 36.61" stroke="#0072BD" stroke-width="1.0" fill="none"/>
<path d="M475.36 31.80H481.56M478.46 28.70V34.90M476.27 29.61L480.65 33.99M476.27 33.99L480.65 29.61" stroke="#0072BD" stroke-width="1.0" fill="none"/>
<path d="M491.19 27.80H497.39M494.29 24.70V30.90M492.10 25.61L496.48 29.99M492.10 29.99L496.48 25.61" stroke="#0072BD" stroke-width="1.0" fill="none"/>
<path d="M507.03 26.00H513.23M510.13 22.90V29.10M507.94 23.81L512.32 28.19M507.94 28.19L512.32 23.81" stroke="#0072BD" stroke-width="1.0" fill="none"/>
<path d="M522.86 25.40H529.06M525.96 22.30V28.50M523.77 23.21L528.16 27.59M523.77 27.59L528.16 23.21" stroke="#0072BD" stroke-width="1.0" fill="none"/>
<path d="M538.70 25.60H544.90M541.80 22.50V28.70M539.61 23.41L543.99 27.79M539.61 27.79L543.99 23.41" stroke="#0072BD" stroke-width="1.0" fill="none"/>
<polyline points="320.10,77.60 335.94,77.90 351.77,79.00 367.61,78.20 383.44,76.50 399.28,72.80 415.11,64.90 430.95,55.40 446.79,46.00 462.62,36.40 478.46,29.70 494.29,25.80 510.13,24.10 525.96,23.50 541.80,23.50" fill="none" stroke="#77AC30" stroke-width="1.5" stroke-dasharray="3.7 0.9 1.4 0.9" clip-path="url(#cr)"/>
<rect x="317.80" y="75.30" width="4.60" height="4.60" stroke="#77AC30" stroke-width="1.15" fill="#77AC30" fill-opacity="0.2"/>
<rect x="333.64" y="75.60" width="4.60" height="4.60" stroke="#77AC30" stroke-width="1.15" fill="#77AC30" fill-opacity="0.2"/>
<rect x="349.47" y="76.70" width="4.60" height="4.60" stroke="#77AC30" stroke-width="1.15" fill="#77AC30" fill-opacity="0.2"/>
<rect x="365.31" y="75.90" width="4.60" height="4.60" stroke="#77AC30" stroke-width="1.15" fill="#77AC30" fill-opacity="0.2"/>
<rect x="381.14" y="74.20" width="4.60" height="4.60" stroke="#77AC30" stroke-width="1.15" fill="#77AC30" fill-opacity="0.2"/>
<rect x="396.98" y="70.50" width="4.60" height="4.60" stroke="#77AC30" stroke-width="1.15" fill="#77AC30" fill-opacity="0.2"/>
<rect x="412.81" y="62.60" width="4.60" height="4.60" stroke="#77AC30" stroke-width="1.15" fill="#77AC30" fill-opacity="0.2"/>
<rect x="428.65" y="53.10" width="4.60" height="4.60" stroke="#77AC30" stroke-width="1.15" fill="#77AC30" fill-opacity="0.2"/>
<rect x="444.49" y="43.70" width="4.60" height="4.60" stroke="#77AC30" stroke-width="1.15" fill="#77AC30" fill-opacity="0.2"/>
<rect x="460.32" y="34.10" width="4.60" height="4.60" stroke="#77AC30" stroke-width="1.15" fill="#77AC30" fill-opacity="0.2"/>
<rect x="476.16" y="27.40" width="4.60" height="4.60" stroke="#77AC30" stroke-width="1.15" fill="#77AC30" fill-opacity="0.2"/>
<rect x="491.99" y="23.50" width="4.60" height="4.60" stroke="#77AC30" stroke-width="1.15" fill="#77AC30" fill-opacity="0.2"/>
<rect x="507.83" y="21.80" width="4.60" height="4.60" stroke="#77AC30" stroke-width="1.15" fill="#77AC30" fill-opacity="0.2"/>
<rect x="523.66" y="21.20" width="4.60" height="4.60" stroke="#77AC30" stroke-width="1.15" fill="#77AC30" fill-opacity="0.2"/>
<rect x="539.50" y="21.20" width="4.60" height="4.60" stroke="#77AC30" stroke-width="1.15" fill="#77AC30" fill-opacity="0.2"/>
<polyline points="320.10,80.20 335.94,80.20 351.77,79.40 367.61,78.10 383.44,76.20 399.28,71.90 415.11,63.20 430.95,52.30 446.79,41.50 462.62,31.50 478.46,24.60 494.29,19.70 510.13,17.10 525.96,16.00 541.80,16.00" fill="none" stroke="#0000FF" stroke-width="1.5" stroke-dasharray="3.7 0.9 1.4 0.9" clip-path="url(#cr)"/>
<path d="M316.90 78.35L323.30 78.35L320.10 83.90Z" stroke="#0000FF" stroke-width="1.15" fill="none" stroke-linejoin="miter"/>
<path d="M332.74 78.35L339.14 78.35L335.94 83.90Z" stroke="#0000FF" stroke-width="1.15" fill="none" stroke-linejoin="miter"/>
<path d="M348.57 77.55L354.97 77.55L351.77 83.10Z" stroke="#0000FF" stroke-width="1.15" fill="none" stroke-linejoin="miter"/>
<path d="M364.41 76.25L370.81 76.25L367.61 81.80Z" stroke="#0000FF" stroke-width="1.15" fill="none" stroke-linejoin="miter"/>
<path d="M380.24 74.35L386.64 74.35L383.44 79.90Z" stroke="#0000FF" stroke-width="1.15" fill="none" stroke-linejoin="miter"/>
<path d="M396.08 70.05L402.48 70.05L399.28 75.60Z" stroke="#0000FF" stroke-width="1.15" fill="none" stroke-linejoin="miter"/>
<path d="M411.91 61.35L418.31 61.35L415.11 66.90Z" stroke="#0000FF" stroke-width="1.15" fill="none" stroke-linejoin="miter"/>
<path d="M427.75 50.45L434.15 50.45L430.95 56.00Z" stroke="#0000FF" stroke-width="1.15" fill="none" stroke-linejoin="miter"/>
<path d="M443.59 39.65L449.99 39.65L446.79 45.20Z" stroke="#0000FF" stroke-width="1.15" fill="none" stroke-linejoin="miter"/>
<path d="M459.42 29.65L465.82 29.65L462.62 35.20Z" stroke="#0000FF" stroke-width="1.15" fill="none" stroke-linejoin="miter"/>
<path d="M475.26 22.75L481.66 22.75L478.46 28.30Z" stroke="#0000FF" stroke-width="1.15" fill="none" stroke-linejoin="miter"/>
<path d="M491.09 17.85L497.49 17.85L494.29 23.40Z" stroke="#0000FF" stroke-width="1.15" fill="none" stroke-linejoin="miter"/>
<path d="M506.93 15.25L513.33 15.25L510.13 20.80Z" stroke="#0000FF" stroke-width="1.15" fill="none" stroke-linejoin="miter"/>
<path d="M522.76 14.15L529.16 14.15L525.96 19.70Z" stroke="#0000FF" stroke-width="1.15" fill="none" stroke-linejoin="miter"/>
<path d="M538.60 14.15L545.00 14.15L541.80 19.70Z" stroke="#0000FF" stroke-width="1.15" fill="none" stroke-linejoin="miter"/>
<polyline points="320.10,80.70 335.94,80.70 351.77,79.80 367.61,78.40 383.44,76.60 399.28,72.60 415.11,64.20 430.95,53.70 446.79,43.30 462.62,33.40 478.46,26.20 494.29,21.00 510.13,18.20 525.96,17.20 541.80,17.30" fill="none" stroke="#FF0000" stroke-width="1.5" stroke-dasharray="3.7 0.9 1.4 0.9" clip-path="url(#cr)"/>
<path d="M320.10 77.25L322.95 80.70L320.10 84.15L317.25 80.70Z" stroke="#FF0000" stroke-width="1.15" fill="none"/>
<path d="M335.94 77.25L338.79 80.70L335.94 84.15L333.09 80.70Z" stroke="#FF0000" stroke-width="1.15" fill="none"/>
<path d="M351.77 76.35L354.62 79.80L351.77 83.25L348.92 79.80Z" stroke="#FF0000" stroke-width="1.15" fill="none"/>
<path d="M367.61 74.95L370.46 78.40L367.61 81.85L364.76 78.40Z" stroke="#FF0000" stroke-width="1.15" fill="none"/>
<path d="M383.44 73.15L386.29 76.60L383.44 80.05L380.59 76.60Z" stroke="#FF0000" stroke-width="1.15" fill="none"/>
<path d="M399.28 69.15L402.13 72.60L399.28 76.05L396.43 72.60Z" stroke="#FF0000" stroke-width="1.15" fill="none"/>
<path d="M415.11 60.75L417.96 64.20L415.11 67.65L412.26 64.20Z" stroke="#FF0000" stroke-width="1.15" fill="none"/>
<path d="M430.95 50.25L433.80 53.70L430.95 57.15L428.10 53.70Z" stroke="#FF0000" stroke-width="1.15" fill="none"/>
<path d="M446.79 39.85L449.64 43.30L446.79 46.75L443.94 43.30Z" stroke="#FF0000" stroke-width="1.15" fill="none"/>
<path d="M462.62 29.95L465.47 33.40L462.62 36.85L459.77 33.40Z" stroke="#FF0000" stroke-width="1.15" fill="none"/>
<path d="M478.46 22.75L481.31 26.20L478.46 29.65L475.61 26.20Z" stroke="#FF0000" stroke-width="1.15" fill="none"/>
<path d="M494.29 17.55L497.14 21.00L494.29 24.45L491.44 21.00Z" stroke="#FF0000" stroke-width="1.15" fill="none"/>
<path d="M510.13 14.75L512.98 18.20L510.13 21.65L507.28 18.20Z" stroke="#FF0000" stroke-width="1.15" fill="none"/>
<path d="M525.96 13.75L528.81 17.20L525.96 20.65L523.11 17.20Z" stroke="#FF0000" stroke-width="1.15" fill="none"/>
<path d="M541.80 13.85L544.65 17.30L541.80 20.75L538.95 17.30Z" stroke="#FF0000" stroke-width="1.15" fill="none"/>
<polyline points="320.10,186.60 335.94,186.60 351.77,186.20 367.61,185.50 383.44,183.60 399.28,177.90 415.11,170.00 430.95,158.00 446.79,145.90 462.62,134.90 478.46,126.30 494.29,121.20 510.13,118.60 525.96,117.40 541.80,117.80" fill="none" stroke="#787878" stroke-width="1.3" stroke-dasharray="3.7 0.9 1.4 0.9" clip-path="url(#cr)"/>
<path d="M317.35 188.20L322.85 188.20L320.10 183.45Z" stroke="#787878" stroke-width="1.1" fill="#787878" fill-opacity="0.22"/>
<path d="M333.19 188.20L338.69 188.20L335.94 183.45Z" stroke="#787878" stroke-width="1.1" fill="#787878" fill-opacity="0.22"/>
<path d="M349.02 187.80L354.52 187.80L351.77 183.05Z" stroke="#787878" stroke-width="1.1" fill="#787878" fill-opacity="0.22"/>
<path d="M364.86 187.10L370.36 187.10L367.61 182.35Z" stroke="#787878" stroke-width="1.1" fill="#787878" fill-opacity="0.22"/>
<path d="M380.69 185.20L386.19 185.20L383.44 180.45Z" stroke="#787878" stroke-width="1.1" fill="#787878" fill-opacity="0.22"/>
<path d="M396.53 179.50L402.03 179.50L399.28 174.75Z" stroke="#787878" stroke-width="1.1" fill="#787878" fill-opacity="0.22"/>
<path d="M412.36 171.60L417.86 171.60L415.11 166.85Z" stroke="#787878" stroke-width="1.1" fill="#787878" fill-opacity="0.22"/>
<path d="M428.20 159.60L433.70 159.60L430.95 154.85Z" stroke="#787878" stroke-width="1.1" fill="#787878" fill-opacity="0.22"/>
<path d="M444.04 147.50L449.54 147.50L446.79 142.75Z" stroke="#787878" stroke-width="1.1" fill="#787878" fill-opacity="0.22"/>
<path d="M459.87 136.50L465.37 136.50L462.62 131.75Z" stroke="#787878" stroke-width="1.1" fill="#787878" fill-opacity="0.22"/>
<path d="M475.71 127.90L481.21 127.90L478.46 123.15Z" stroke="#787878" stroke-width="1.1" fill="#787878" fill-opacity="0.22"/>
<path d="M491.54 122.80L497.04 122.80L494.29 118.05Z" stroke="#787878" stroke-width="1.1" fill="#787878" fill-opacity="0.22"/>
<path d="M507.38 120.20L512.88 120.20L510.13 115.45Z" stroke="#787878" stroke-width="1.1" fill="#787878" fill-opacity="0.22"/>
<path d="M523.21 119.00L528.71 119.00L525.96 114.25Z" stroke="#787878" stroke-width="1.1" fill="#787878" fill-opacity="0.22"/>
<path d="M539.05 119.40L544.55 119.40L541.80 114.65Z" stroke="#787878" stroke-width="1.1" fill="#787878" fill-opacity="0.22"/>
<rect x="320.1" y="15.5" width="221.70" height="171.40" fill="none" stroke="#262626" stroke-width="0.45"/>
<path d="M351.77 186.9v-2.2M351.77 15.5v2.2M383.44 186.9v-2.2M383.44 15.5v2.2M415.11 186.9v-2.2M415.11 15.5v2.2M446.79 186.9v-2.2M446.79 15.5v2.2M478.46 186.9v-2.2M478.46 15.5v2.2M510.13 186.9v-2.2M510.13 15.5v2.2M320.1 153.33h2.2M541.8 153.33h-2.2M320.1 125.91h2.2M541.8 125.91h-2.2M320.1 102.72h2.2M541.8 102.72h-2.2M320.1 82.63h2.2M541.8 82.63h-2.2M320.1 64.92h2.2M541.8 64.92h-2.2M320.1 49.07h2.2M541.8 49.07h-2.2M320.1 34.73h2.2M541.8 34.73h-2.2M320.1 21.64h2.2M541.8 21.64h-2.2M320.1 179.56h1.1M541.8 179.56h-1.1M320.1 172.56h1.1M541.8 172.56h-1.1M320.1 165.88h1.1M541.8 165.88h-1.1M320.1 159.47h1.1M541.8 159.47h-1.1M320.1 147.43h1.1M541.8 147.43h-1.1M320.1 141.76h1.1M541.8 141.76h-1.1M320.1 136.29h1.1M541.8 136.29h-1.1M320.1 131.01h1.1M541.8 131.01h-1.1M320.1 120.98h1.1M541.8 120.98h-1.1M320.1 116.20h1.1M541.8 116.20h-1.1M320.1 111.57h1.1M541.8 111.57h-1.1M320.1 107.08h1.1M541.8 107.08h-1.1M320.1 98.48h1.1M541.8 98.48h-1.1M320.1 94.36h1.1M541.8 94.36h-1.1M320.1 90.35h1.1M541.8 90.35h-1.1M320.1 86.44h1.1M541.8 86.44h-1.1M320.1 78.92h1.1M541.8 78.92h-1.1M320.1 75.29h1.1M541.8 75.29h-1.1M320.1 71.75h1.1M541.8 71.75h-1.1M320.1 68.30h1.1M541.8 68.30h-1.1M320.1 61.61h1.1M541.8 61.61h-1.1M320.1 58.37h1.1M541.8 58.37h-1.1M320.1 55.21h1.1M541.8 55.21h-1.1M320.1 52.11h1.1M541.8 52.11h-1.1M320.1 46.09h1.1M541.8 46.09h-1.1M320.1 43.17h1.1M541.8 43.17h-1.1M320.1 40.30h1.1M541.8 40.30h-1.1M320.1 37.49h1.1M541.8 37.49h-1.1M320.1 32.02h1.1M541.8 32.02h-1.1M320.1 29.36h1.1M541.8 29.36h-1.1M320.1 26.74h1.1M541.8 26.74h-1.1M320.1 24.17h1.1M541.8 24.17h-1.1M320.1 19.15h1.1M541.8 19.15h-1.1M320.1 16.71h1.1M541.8 16.71h-1.1" stroke="#262626" stroke-width="0.6" fill="none"/>
<text x="320.10" y="200.40" font-size="9.6" text-anchor="middle" >0</text>
<text x="351.77" y="200.40" font-size="9.6" text-anchor="middle" >10</text>
<text x="383.44" y="200.40" font-size="9.6" text-anchor="middle" >20</text>
<text x="415.11" y="200.40" font-size="9.6" text-anchor="middle" >30</text>
<text x="446.79" y="200.40" font-size="9.6" text-anchor="middle" >40</text>
<text x="478.46" y="200.40" font-size="9.6" text-anchor="middle" >50</text>
<text x="510.13" y="200.40" font-size="9.6" text-anchor="middle" >60</text>
<text x="541.80" y="200.40" font-size="9.6" text-anchor="middle" >70</text>
<text x="430.90" y="212.20" font-size="10.4" text-anchor="middle" >SNR [dB]</text>
<text x="316.80" y="190.80" font-size="9.6" text-anchor="end" >4</text>
<text x="316.80" y="157.23" font-size="9.6" text-anchor="end" >5</text>
<text x="316.80" y="129.81" font-size="9.6" text-anchor="end" >6</text>
<text x="316.80" y="106.62" font-size="9.6" text-anchor="end" >7</text>
<text x="316.80" y="86.53" font-size="9.6" text-anchor="end" >8</text>
<text x="316.80" y="68.82" font-size="9.6" text-anchor="end" >9</text>
<text x="316.80" y="52.97" font-size="9.6" text-anchor="end" >10</text>
<text x="316.80" y="38.63" font-size="9.6" text-anchor="end" >11</text>
<text x="316.80" y="25.54" font-size="9.6" text-anchor="end" >12</text>
<text x="320.6" y="14.8" font-size="9.6" text-anchor="start"><tspan font-size="11.5">×</tspan><tspan dx="1.5">10</tspan><tspan font-size="7.2" dy="-4.3">4</tspan></text>
<text transform="translate(301.5,101.2) rotate(-90)" font-size="10.4" text-anchor="middle">ADR [bits/s]</text>
<rect x="330.3" y="92.5" width="85.10" height="82.50" fill="#fff" stroke="#262626" stroke-width="0.5"/>
<line x1="332.2" x2="352.6" y1="99.30" y2="99.30" stroke="#000000" stroke-width="1.35" stroke-dasharray="3.4 1.1 2.6 1.1 4.0 1.1 2.6 1.1 3.4"/>
<path d="M338.70 99.30H345.90M342.30 95.50V103.10" stroke="#000000" stroke-width="1.25" fill="none"/>
<text x="354.60" y="102.40" font-size="9.6" text-anchor="start" >No iteration</text>
<line x1="332.2" x2="352.6" y1="111.00" y2="111.00" stroke="#D95319" stroke-width="1.35" stroke-dasharray="3.4 1.1 2.6 1.1 4.0 1.1 2.6 1.1 3.4"/>
<circle cx="342.30" cy="111.00" r="2.9" stroke="#D95319" stroke-width="1.15" fill="none"/>
<text x="354.60" y="114.10" font-size="9.6" text-anchor="start" >1st iteration</text>
<line x1="332.2" x2="352.6" y1="122.70" y2="122.70" stroke="#0072BD" stroke-width="1.35" stroke-dasharray="3.4 1.1 2.6 1.1 4.0 1.1 2.6 1.1 3.4"/>
<path d="M339.20 122.70H345.40M342.30 119.60V125.80M340.11 120.51L344.49 124.89M340.11 124.89L344.49 120.51" stroke="#0072BD" stroke-width="1.0" fill="none"/>
<text x="354.60" y="125.80" font-size="9.6" text-anchor="start" >2nd iteration</text>
<line x1="332.2" x2="352.6" y1="134.30" y2="134.30" stroke="#77AC30" stroke-width="1.35" stroke-dasharray="3.4 1.1 2.6 1.1 4.0 1.1 2.6 1.1 3.4"/>
<rect x="340.00" y="132.00" width="4.60" height="4.60" stroke="#77AC30" stroke-width="1.15" fill="#77AC30" fill-opacity="0.2"/>
<text x="354.60" y="137.40" font-size="9.6" text-anchor="start" >3rd iteration</text>
<line x1="332.2" x2="352.6" y1="145.90" y2="145.90" stroke="#0000FF" stroke-width="1.35" stroke-dasharray="3.4 1.1 2.6 1.1 4.0 1.1 2.6 1.1 3.4"/>
<path d="M339.10 144.05L345.50 144.05L342.30 149.60Z" stroke="#0000FF" stroke-width="1.15" fill="none" stroke-linejoin="miter"/>
<text x="354.60" y="149.00" font-size="9.6" text-anchor="start" >4th iteration</text>
<line x1="332.2" x2="352.6" y1="157.50" y2="157.50" stroke="#FF0000" stroke-width="1.35" stroke-dasharray="3.4 1.1 2.6 1.1 4.0 1.1 2.6 1.1 3.4"/>
<path d="M342.30 154.05L345.15 157.50L342.30 160.95L339.45 157.50Z" stroke="#FF0000" stroke-width="1.15" fill="none"/>
<text x="354.60" y="160.60" font-size="9.6" text-anchor="start" >5th iteration</text>
<line x1="332.2" x2="352.6" y1="168.80" y2="168.80" stroke="#787878" stroke-width="1.3" stroke-dasharray="3.4 1.1 2.6 1.1 4.0 1.1 2.6 1.1 3.4"/>
<path d="M339.55 170.40L345.05 170.40L342.30 165.65Z" stroke="#787878" stroke-width="1.1" fill="#787878" fill-opacity="0.22"/>
<text x="354.60" y="171.90" font-size="9.6" text-anchor="start" >Conv. 2D-DFC</text>
<text x="424.2" y="236.6" font-size="12.4" font-weight="bold" style="stroke-width:0" text-anchor="middle">(b)</text>
</svg>
</body></html>
